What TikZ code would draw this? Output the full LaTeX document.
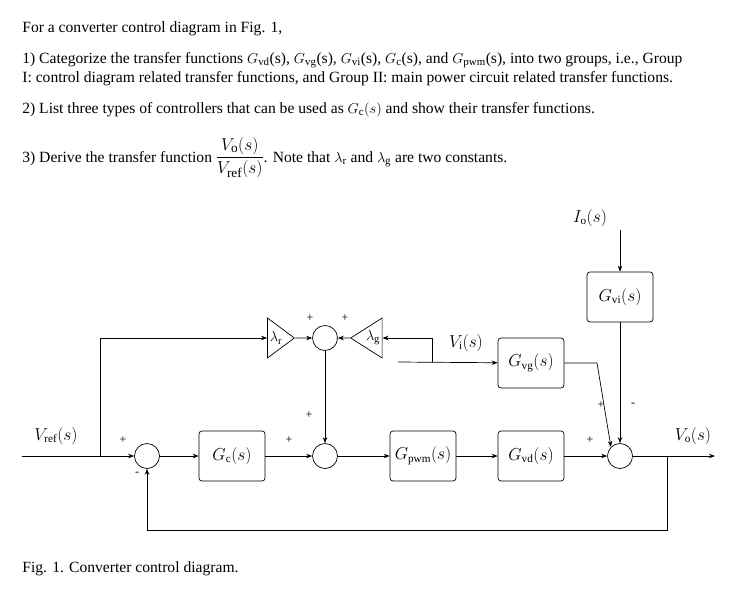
\documentclass[tikz,border=0pt]{standalone}
\usepackage{amsmath}
\usepackage{fontspec}
\setmainfont{Liberation Serif}
\usetikzlibrary{arrows.meta,shapes.geometric}
\begin{document}
\begin{tikzpicture}[x=1pt,y=-1pt,
  txt/.style={anchor=base west,inner sep=0pt,font=\fontsize{15.6}{18}\selectfont},
  blk/.style={draw,rounded corners=3pt,minimum width=66pt,minimum height=50pt,font=\fontsize{16}{18}\selectfont},
  sum/.style={draw,circle,minimum size=25pt,inner sep=0pt},
  gain/.style={draw,isosceles triangle,isosceles triangle stretches,minimum width=40pt,minimum height=26pt,inner sep=0pt,font=\fontsize{15}{17}\selectfont},
  sgn/.style={font=\fontsize{12}{13}\selectfont,inner sep=0pt},
  lab/.style={font=\fontsize{16}{18}\selectfont},
  ar/.style={-{Stealth[length=6pt,width=4.5pt]}},
  every path/.style={line width=0.7pt}]
\useasboundingbox (0,0) rectangle (743,597);
\node[txt] (t1) at (22,32) {For a converter control diagram in Fig. 1,};
\node[txt] (t2) at (22,63) {1) Categorize the transfer functions $G_{\mathrm{vd}}$(s), $G_{\mathrm{vg}}$(s), $G_{\mathrm{vi}}$(s), $G_{\mathrm{c}}$(s), and $G_{\mathrm{pwm}}$(s), into two groups, i.e., Group};
\node[txt] (t3) at (22,82) {I: control diagram related transfer functions, and Group II: main power circuit related transfer functions.};
\node[txt] (t4) at (22,113) {2) List three types of controllers that can be used as $G_{\mathrm{c}}(s)$ and show their transfer functions.};
\node[txt] (t5) at (22,162) {3) Derive the transfer function {\fontsize{19}{21}\selectfont$\dfrac{V_{\mathrm{o}}(s)}{V_{\mathrm{ref}}(s)}$}. Note that $\lambda_{\mathrm{r}}$ and $\lambda_{\mathrm{g}}$ are two constants.};
\node[txt] (t6) at (22,572) {Fig. 1. Converter control diagram.};

\node[sum] (s1) at (147,456) {};
\node[blk] (gc) at (232,456) {$G_{\mathrm{c}}(s)$};
\node[sum] (s2) at (325,456) {};
\node[sum] (st) at (325,338) {};
\node[gain] (lr) at (276,338) {$\lambda_{\mathrm{r}}$};
\node[gain,shape border rotate=180] (lg) at (373,338) {$\lambda_{\mathrm{g}}$};
\node[blk,minimum width=66pt] (gp) at (423,456) {$G_{\mathrm{pwm}}(s)$};
\node[blk] (gvd) at (531,456) {$G_{\mathrm{vd}}(s)$};
\node[blk] (gvg) at (531,363) {$G_{\mathrm{vg}}(s)$};
\node[blk] (gvi) at (620,297) {$G_{\mathrm{vi}}(s)$};
\node[sum] (s3) at (620,456) {};

\coordinate (vin) at (22,456);
\coordinate (j1) at (100,456);
\coordinate (viin) at (398,362);
\coordinate (j2) at (432,362);
\coordinate (ioin) at (620,230);
\coordinate (out) at (715,456);
\coordinate (j3) at (667,456);
\coordinate (bend) at (597,363);

\node[lab] (lvref) at (56,436) {$V_{\mathrm{ref}}(s)$};
\node[lab] (lvi) at (466,343) {$V_{\mathrm{i}}(s)$};
\node[lab] (lio) at (590,218) {$I_{\mathrm{o}}(s)$};
\node[lab] (lvo) at (693,436) {$V_{\mathrm{o}}(s)$};

\draw[ar] (vin) -- (s1);
\draw[ar] (j1) |- (lr);
\draw[ar] (lr) -- (st);
\draw[ar] (lg) -- (st);
\draw[ar] (st) -- (s2);
\draw[ar] (s1) -- (gc);
\draw[ar] (gc) -- (s2);
\draw[ar] (s2) -- (gp);
\draw[ar] (gp) -- (gvd);
\draw[ar] (gvd) -- (s3);
\draw[ar] (viin) -- (gvg);
\draw[ar] (j2) |- (lg);
\draw[ar] (ioin) -- (gvi);
\draw[ar] (gvi) -- (s3);
\draw[ar] (gvg.east) -- (bend) -- (s3.north west);
\draw[ar] (s3) -- (out);
\draw[ar] (j3) -- (667,530) -| (s1);

\node[sgn] (p1) at (123,440) {+};
\node[sgn] (m1) at (137,474) {-};
\node[sgn] (p2) at (289,440) {+};
\node[sgn] (p3) at (309,415) {+};
\node[sgn] (p4) at (310,318) {+};
\node[sgn] (p5) at (345,318) {+};
\node[sgn] (p6) at (601,405) {+};
\node[sgn] (p7) at (590,440) {+};
\node[sgn] (m2) at (633,405) {-};
\end{tikzpicture}
\end{document}
